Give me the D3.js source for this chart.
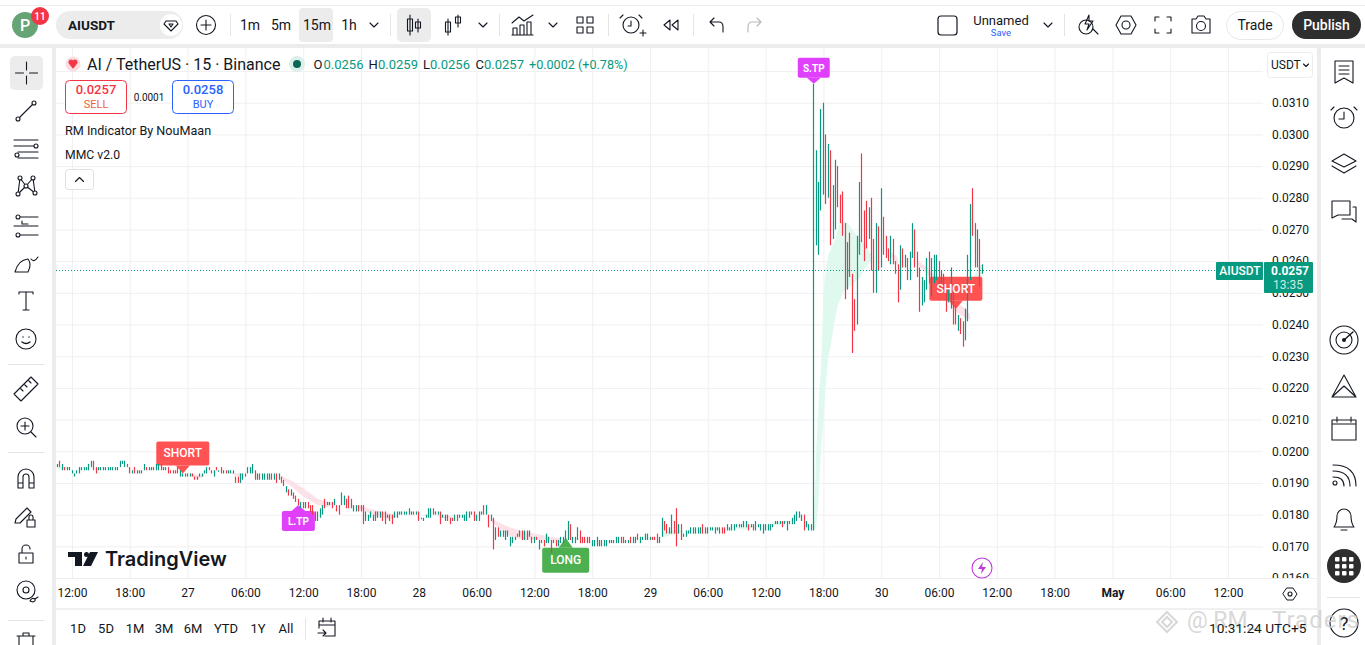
<!DOCTYPE html>
<html>
<head>
<meta charset="utf-8">
<script src="https://cdnjs.cloudflare.com/ajax/libs/d3/7.8.5/d3.min.js"></script>
<style>
  html, body { margin: 0; padding: 0; background: #fff; overflow: hidden; }
  svg { display: block; }
  text { font-family: Roboto, "Noto Sans", sans-serif; fill: #131722; }
  .axis path, .axis line { display: none; }
  .axis text { font-size: 12px; fill: #131722; font-family: Roboto, sans-serif; }
  .grid path { display: none; }
  .grid line { stroke: #f0f0f2; }
  .grid text { display: none; }
</style>
</head>
<body>
<svg id="page" width="1365" height="645"></svg>
<script>
// prices are kept in ticks of 0.0001, one 15 minute bar per entry
const TICK = 0.0001;
const lastBarTime = "2025-04-30T10:30";

const barHigh = [
  196,197,196,195,195,195,194,193,194,195,195,195,195,196,197,197,195,195,195,195,
  195,195,195,195,195,195,197,197,197,196,195,194,195,194,194,194,196,195,195,195,
  195,196,196,196,195,195,195,194,194,194,195,194,193,193,193,193,193,192,192,193,
  193,194,195,195,194,194,195,194,195,194,194,194,194,194,192,192,193,193,193,195,
  195,196,194,193,193,193,193,193,193,193,193,193,193,192,191,189,188,188,187,186,
  185,184,184,184,184,183,183,181,181,182,183,185,184,184,184,185,183,183,187,186,
  185,186,185,183,183,183,183,183,181,180,181,180,181,181,181,181,181,180,180,180,
  181,181,181,181,181,181,182,181,181,181,181,179,179,180,182,182,182,181,181,181,
  180,180,180,179,179,180,180,180,180,180,181,181,181,181,180,181,181,183,183,180,
  180,179,176,176,175,175,175,175,173,173,173,174,175,175,175,175,175,173,173,173,
  172,172,172,174,173,172,172,172,172,173,173,175,178,177,173,173,176,175,173,173,
  173,173,172,172,173,172,172,172,172,172,172,172,173,173,173,173,172,172,173,173,
  173,174,173,173,174,174,173,173,173,174,173,179,178,177,176,180,178,182,177,177,
  174,175,175,176,176,176,176,176,177,176,176,176,176,176,176,176,176,176,177,176,
  177,177,177,177,177,178,178,177,177,177,178,177,177,177,177,177,177,177,178,178,
  178,178,178,178,178,179,180,181,181,180,180,178,177,177,316,295,285,308,310,300,
  297,295,284,292,290,281,282,272,266,269,256,248,268,285,294,276,279,277,280,267,
  272,271,283,274,268,264,268,267,260,259,265,264,262,261,263,272,270,263,258,255,
  254,261,263,261,262,262,260,257,256,251,251,258,252,246,243,242,241,245,262,278,283,272,270,267,259
];
const barLow = [
  195,195,194,194,194,194,193,192,193,193,194,194,194,194,195,194,193,194,194,194,
  194,194,194,194,194,194,195,196,195,195,193,193,193,193,193,193,194,194,194,194,
  194,194,194,194,194,194,193,193,193,193,193,192,192,192,192,192,192,191,191,192,
  192,193,193,194,193,192,194,194,193,193,193,193,193,193,190,190,190,191,192,193,
  193,193,191,191,191,191,191,191,191,191,191,190,191,190,189,187,186,186,185,184,
  183,182,182,182,182,181,180,178,178,179,180,182,183,183,182,183,181,180,183,183,
  182,182,182,181,181,181,181,177,178,178,179,178,178,179,179,178,177,179,178,177,
  179,179,180,180,180,180,180,180,180,180,178,179,178,179,179,179,180,180,180,177,
  179,178,178,177,178,178,178,179,179,178,178,179,180,178,178,178,180,180,180,176,
  178,169,172,173,173,173,172,173,170,171,172,173,173,172,172,172,173,171,171,172,
  169,171,170,171,171,168,171,170,170,171,171,172,172,172,171,171,172,171,171,171,
  171,171,170,170,170,170,170,170,170,171,171,171,171,171,171,171,171,171,171,171,
  171,172,171,172,172,172,172,172,172,171,171,173,175,174,174,174,174,170,174,172,
  173,173,174,174,174,174,174,174,174,174,174,175,175,174,175,174,174,174,175,175,
  175,175,176,176,176,176,176,175,176,175,175,176,175,174,175,175,175,176,177,177,
  177,176,177,175,177,177,177,178,179,178,175,176,175,175,175,265,262,276,281,278,
  280,265,267,270,277,272,268,248,251,255,231,238,240,262,266,260,264,267,257,250,
  250,257,258,262,261,260,259,259,256,247,251,258,258,254,254,261,258,255,244,246,
  247,251,253,249,253,254,251,253,251,244,247,245,240,240,238,237,233,235,241,254,268,258,258,252,256
];
// 1 closed up, 0 closed down
const barUp = [
  1,0,1,0,1,1,1,1,1,1,1,1,1,1,1,0,0,1,1,1,
  1,1,1,1,1,1,1,1,1,0,0,1,0,1,0,1,1,0,1,1,
  0,1,1,0,1,1,0,0,0,0,0,1,1,0,1,1,0,0,0,1,
  1,1,1,0,0,1,0,1,0,1,0,1,1,1,0,0,1,1,0,1,
  1,1,0,1,0,1,1,1,1,0,1,0,1,0,0,1,0,1,0,0,
  0,1,0,1,0,0,0,0,1,1,1,0,1,1,0,1,0,0,1,1,
  0,0,0,1,1,0,0,0,1,1,1,1,0,1,1,0,0,1,0,0,
  1,1,1,1,1,1,1,1,0,1,0,1,1,1,1,1,0,1,1,0,
  1,1,0,0,0,1,0,1,1,1,1,1,0,0,1,1,1,0,1,0,
  1,0,1,0,1,1,1,1,1,1,1,0,1,0,1,0,1,0,1,0,
  1,0,0,1,1,0,1,0,1,1,1,1,1,0,1,1,1,0,0,0,
  0,0,1,1,1,1,0,1,1,1,1,0,1,1,0,0,1,1,0,1,
  1,0,1,1,1,1,1,0,0,0,1,1,0,0,1,1,0,0,1,0,
  1,1,1,1,1,1,1,1,0,0,1,1,1,1,1,1,0,0,1,1,
  1,1,1,1,1,1,1,0,1,0,1,1,1,1,1,1,1,1,1,1,
  1,0,1,1,0,1,1,1,1,1,0,1,1,1,1,1,1,1,1,0,
  1,0,1,1,0,0,0,0,1,0,0,0,1,1,0,0,0,1,0,0,
  1,0,1,0,0,0,1,0,0,0,1,0,1,0,1,1,0,0,0,1,
  1,1,0,1,1,1,0,1,0,0,1,1,0,0,1,0,0,1,1,1,0,0,1,0,1
];

// indicator ribbons: [bar, upper tick, lower tick]
const mintStart = [[0,195,194.2],[3,195,194.5],[5,194.8,194.5]];
const mintLift1 = [[251,174.6,172.8],[256,175,173.7],[260,175,174.4]];
const mintLift2 = [[282,176,175.5],[286,176.4,175.2],[289,176.6,176]];
const mintLift3 = [[296,177.2,176.8],[300,177.8,176.9],[303,178,177.5]];
const mintSpike = [
  [314,176,175],[315,200,176],[316,216,185],[317,226,200],[318,250,210],[319,257,221],[320,262,230],
  [321,263.5,233],[322,265.6,238],[323,267,242.5],[324,270,246],[325,272,248],[326,272.5,250],
  [327,272.5,251],[328,272,251.5],[329,271,252],[330,270,252.5],[331,269,253.5],[332,268,254],
  [333,267,254.5],[334,266.5,256],[335,265.5,257.5],[336,264.5,258.5],[337,263,259.5],[338,262,260]
];
const mintEnd = [[380,254,253],[382,258,254],[384,259,255]];
const pinkDip1 = [[55,193.2,192.5],[58,192.5,191],[61,192.5,192.2]];
const pinkDip2 = [[72,193.5,193],[75,193,192],[77,193,192.5]];
const pinkFall1 = [[93,192.2,191.5],[98,190.4,188.3],[102,188.3,185.7],[108,185,183],[112,184,182.3],[114,183.7,183]];
const pinkFall2 = [[125,182.9,182],[131,181.5,180],[138,180.4,178.5],[141,180,179.4]];
const pinkDip3 = [[158,180,179.5],[161,179.7,178.8],[164,179.5,179]];
const pinkFall3 = [[180,178.8,177.8],[187,176.2,173.6],[192,175,172.2],[201,173.6,172],[209,172.5,171.8]];
const pinkDip4 = [[346,263,261.5],[349,261,258.5]];
const pinkFall4 = [[357,260.2,259],[361,258,256],[366,254,251],[373,247,244],[377,245,242],[379,243,241.5]];

// signal labels
const signalText = ["SHORT","L.TP","LONG","S.TP","SHORT"];
const signalBar = [52,100,211,314,373];
const signalTick = [193,183,172.7,316,245];
const signalDir = ["down","up","up","down","down"];
const signalColor = ["#ff5252","#e040fb","#4caf50","#e040fb","#ff5252"];

const timeTicks = ["2025-04-26T12:00","2025-04-26T18:00","2025-04-27T00:00","2025-04-27T06:00","2025-04-27T12:00","2025-04-27T18:00","2025-04-28T00:00","2025-04-28T06:00","2025-04-28T12:00","2025-04-28T18:00","2025-04-29T00:00","2025-04-29T06:00","2025-04-29T12:00","2025-04-29T18:00","2025-04-30T00:00","2025-04-30T06:00","2025-04-30T12:00","2025-04-30T18:00","2025-05-01T00:00","2025-05-01T06:00","2025-05-01T12:00"];
const timeLabels = ["12:00","18:00","27","06:00","12:00","18:00","28","06:00","12:00","18:00","29","06:00","12:00","18:00","30","06:00","12:00","18:00","May","06:00","12:00"];
const priceLabels = [0.0160,0.0170,0.0180,0.0190,0.0200,0.0210,0.0220,0.0230,0.0240,0.0250,0.0260,0.0270,0.0280,0.0290,0.0300,0.0310];
const priceGrid = priceLabels.concat([0.0320]);

const intervals = [["1m",250],["5m",281],["15m",317],["1h",349]];
const ranges = [["1D",78],["5D",106],["1M",135],["3M",164],["6M",193],["YTD",226],["1Y",258],["All",286]];

const UP = "#089981", DOWN = "#f23645", INK = "#131722", GAP = "#ececec";
const plot = {left: 56, right: 1263, top: 48, bottom: 578};

const svg = d3.select("#page");
const parseTime = d3.utcParse("%Y-%m-%dT%H:%M");

const x = d3.scaleUtc()
  .domain([parseTime(timeTicks[0]), parseTime(timeTicks[timeTicks.length - 1])])
  .range([72, 1228]);
const y = d3.scaleLinear().domain([0.0160, 0.0310]).range([578, 102.7]);

const last = parseTime(lastBarTime).getTime();
const barTime = i => new Date(last - (barHigh.length - 1 - i) * 15 * 60000);
const xBar = i => x(barTime(i));

// page frame
svg.append("rect").attr("width", 1365).attr("height", 645).attr("fill", GAP);
svg.append("rect").attr("y", 6).attr("width", 1365).attr("height", 38).attr("fill", "#fff");
svg.append("rect").attr("width", 1365).attr("height", 5).attr("fill", "#fff");
svg.append("rect").attr("y", 48).attr("width", 52).attr("height", 597).attr("fill", "#fff");
svg.append("rect").attr("x", 56).attr("y", 48).attr("width", 1261).attr("height", 597).attr("fill", "#fff");
svg.append("rect").attr("x", 1321).attr("y", 48).attr("width", 44).attr("height", 597).attr("fill", "#fff");
svg.append("rect").attr("x", 56).attr("y", 608).attr("width", 1261).attr("height", 2).attr("fill", "#f0f0f0");

svg.append("defs").append("clipPath").attr("id", "plotClip")
  .append("rect").attr("x", plot.left).attr("y", plot.top)
  .attr("width", plot.right - plot.left).attr("height", plot.bottom - plot.top);
svg.select("defs").append("clipPath").attr("id", "axisClip")
  .append("rect").attr("x", plot.right).attr("y", plot.top).attr("width", 54).attr("height", plot.bottom - plot.top);

// grid
svg.append("g").attr("class", "grid")
  .attr("transform", `translate(${plot.left},0)`)
  .call(d3.axisLeft(y).tickValues(priceGrid).tickSize(-(plot.right - plot.left)).tickFormat(""));
svg.append("g").attr("class", "grid")
  .attr("transform", `translate(0,${plot.bottom})`)
  .call(d3.axisBottom(x).tickValues(timeTicks.map(parseTime)).tickSize(-(plot.bottom - plot.top)).tickFormat(""));
svg.append("line").attr("x1", plot.left).attr("x2", 1317).attr("y1", plot.bottom + 0.5).attr("y2", plot.bottom + 0.5).attr("stroke", "#eeeeee");

const chart = svg.append("g").attr("clip-path", "url(#plotClip)");

// ribbons
const ribbon = d3.area()
  .x(d => xBar(d[0]))
  .y0(d => y(d[2] * TICK))
  .y1(d => y(d[1] * TICK));
[mintStart, mintLift1, mintLift2, mintLift3, mintSpike, mintEnd].forEach(r => {
  chart.append("path").attr("d", ribbon(r)).attr("fill", "#e0f9ee");
});
[pinkDip1, pinkDip2, pinkFall1, pinkFall2, pinkDip3, pinkFall3, pinkDip4, pinkFall4].forEach(r => {
  chart.append("path").attr("d", ribbon(r)).attr("fill", "#fde1e8");
});

// label boxes sit under the bars, their text on top
const boxW = {"SHORT": 53, "LONG": 47, "L.TP": 33, "S.TP": 32};
const boxH = {"SHORT": 24, "LONG": 25, "L.TP": 20, "S.TP": 20};
const boxGap = {"SHORT": 8, "LONG": 10, "L.TP": 6, "S.TP": 6};
const signalAt = signalText.map((t, i) => {
  const tx = xBar(signalBar[i]), ty = y(signalTick[i] * TICK);
  const w = boxW[t], h = boxH[t], dir = signalDir[i] === "down" ? -1 : 1;
  const top = dir < 0 ? ty - boxGap[t] - h : ty + boxGap[t];
  return {t, tx, ty, w, h, dir, top, color: signalColor[i]};
});
signalAt.forEach(s => {
  svg.append("rect").attr("x", s.tx - s.w / 2).attr("y", s.top).attr("width", s.w).attr("height", s.h).attr("rx", 2).attr("fill", s.color);
  const base = s.dir < 0 ? s.top + s.h : s.top;
  svg.append("path").attr("d", d3.line()([[s.tx - 7, base], [s.tx, s.ty], [s.tx + 7, base]])).attr("fill", s.color);
});

// bars
const bars = svg.append("g").attr("clip-path", "url(#plotClip)");
bars.selectAll("line").data(barHigh).join("line")
  .attr("x1", (d, i) => Math.floor(xBar(i)) + 0.5)
  .attr("x2", (d, i) => Math.floor(xBar(i)) + 0.5)
  .attr("y1", d => y(d * TICK))
  .attr("y2", (d, i) => Math.max(y(barLow[i] * TICK), y(d * TICK) + 1.5))
  .attr("stroke", (d, i) => barUp[i] ? UP : DOWN)
  .attr("stroke-width", 1.2);

signalAt.forEach(s => {
  svg.append("text").attr("x", s.tx).attr("y", s.top + s.h / 2 + 4)
    .attr("text-anchor", "middle").style("fill", "#fff")
    .style("font-size", s.t.includes(".") ? "10px" : "12px")
    .style("font-weight", s.t.includes(".") ? 700 : 500)
    .text(s.t);
});

// last price line
svg.append("line").attr("x1", plot.left).attr("x2", 1216)
  .attr("y1", Math.floor(y(257 * TICK)) + 0.5).attr("y2", Math.floor(y(257 * TICK)) + 0.5)
  .attr("stroke", UP).attr("stroke-dasharray", "1 2").attr("shape-rendering", "crispEdges");

// axes
const priceClip = svg.append("g").attr("clip-path", "url(#axisClip)");
priceClip.append("g").attr("class", "axis")
  .attr("transform", `translate(${plot.right},0)`)
  .call(d3.axisRight(y).tickValues(priceLabels).tickSize(0).tickPadding(9).tickFormat(d3.format(".4f")));
const timeAxis = svg.append("g").attr("class", "axis")
  .attr("transform", `translate(0,${plot.bottom})`)
  .call(d3.axisBottom(x).tickValues(timeTicks.map(parseTime)).tickSize(0).tickPadding(10)
    .tickFormat((d, i) => timeLabels[i]));
timeAxis.selectAll("text").style("font-weight", (d, i) => timeLabels[i] === "May" ? 700 : 400);

// last price tags
svg.append("rect").attr("x", 1216).attr("y", 262).attr("width", 47).attr("height", 18).attr("rx", 1).attr("fill", UP);
svg.append("rect").attr("x", 1264).attr("y", 262).attr("width", 49).attr("height", 31).attr("rx", 1).attr("fill", UP);
txt(1240, 275, "AIUSDT", 12, "#fff", "middle", 500);
txt(1290, 275, "0.0257", 12, "#fff", "middle", 700);
txt(1288, 289, "13:35", 12, "#c9ece4", "middle", 400);

function txt(px, py, s, size, color, anchor, weight) {
  return svg.append("text").attr("x", px).attr("y", py).attr("text-anchor", anchor || "start")
    .style("font-size", size + "px").style("fill", color || INK).style("font-weight", weight || 400).text(s);
}
function icon(px, py, d, width) {
  return svg.append("path").attr("transform", `translate(${px},${py})`).attr("d", d)
    .attr("fill", "none").attr("stroke", INK).attr("stroke-width", width || 1.1)
    .attr("stroke-linecap", "round").attr("stroke-linejoin", "round");
}
function ring(px, py, r, color) {
  return svg.append("circle").attr("cx", px).attr("cy", py).attr("r", r)
    .attr("fill", "#fff").attr("stroke", color || INK).attr("stroke-width", 1.1);
}
function sep(x1, y1, x2, y2) {
  svg.append("line").attr("x1", x1).attr("y1", y1).attr("x2", x2).attr("y2", y2).attr("stroke", "#e4e4e4");
}
const chevron = "M-4-2L0 2L4-2";

// top bar
svg.append("circle").attr("cx", 25).attr("cy", 25).attr("r", 13).attr("fill", "#66a375");
txt(25, 31, "P", 16, "#fff", "middle", 500);
svg.append("circle").attr("cx", 40).attr("cy", 16).attr("r", 9).attr("fill", "#f23645");
txt(40, 20, "11", 10, "#fff", "middle", 500);
svg.append("rect").attr("x", 56).attr("y", 11).attr("width", 127).attr("height", 28).attr("rx", 14).attr("fill", GAP);
txt(68, 30, "AIUSDT", 13.5, INK, "start", 700);
svg.append("circle").attr("cx", 171).attr("cy", 25).attr("r", 11).attr("fill", "#fff");
icon(171, 25, "M-5-4H5L7-1L0 6L-7-1Z M-2-1H2L0 2Z");
ring(206, 25, 9.5);
icon(206, 25, "M-5 0H5M0-5V5");
sep(230.5, 14, 230.5, 36);
svg.append("rect").attr("x", 299).attr("y", 8).attr("width", 34).attr("height", 34).attr("rx", 4).attr("fill", GAP);
intervals.forEach(d => txt(d[1], 30, d[0], 14, INK, "middle"));
icon(374, 25, chevron);
sep(390.5, 14, 390.5, 36);
svg.append("rect").attr("x", 397).attr("y", 8).attr("width", 34).attr("height", 34).attr("rx", 5).attr("fill", GAP);
icon(414, 25, "M-4-10V10M-6.5-6H-1.5V6H-6.5Z M4-6V7M1.5-3H6.5V3H1.5Z");
icon(453, 25, "M-5-6V10M-7.5-3H-2.5V7H-7.5Z M5-10V2M2.5-8H7.5V-2H2.5Z");
icon(483, 25, chevron);
sep(499.5, 14, 499.5, 36);
icon(523, 25, "M-11-2L-4-8L1-4L10-10 M-10 10V3H-6V10Z M-3 10V0H1V10Z M4 10V-3H8V10Z M-11 10H10");
icon(553, 25, chevron);
icon(585, 25, "M-8-8H-2V-2H-8Z M2-8H8V-2H2Z M-8 2H-2V8H-8Z M2 2H8V8H2Z");
sep(608.5, 14, 608.5, 36);
ring(631, 25, 8);
icon(631, 25, "M0-4V1H-3 M-8-10L-11-7M8-10L11-7 M9 8H15M12 5V11");
icon(671, 25, "M-1-5L-7 0L-1 5Z M7-5L1 0L7 5Z");
sep(693.5, 14, 693.5, 36);
icon(716, 25, "M-6-3H3Q7-3 7 2V7 M-2-7L-6-3L-2 1");
icon(755, 25, "M6-3H-3Q-7-3-7 2V7 M2-7L6-3L2 1").attr("stroke", "#b8b8b8");
svg.append("rect").attr("x", 938).attr("y", 16).attr("width", 19).attr("height", 19).attr("rx", 3).attr("fill", "none").attr("stroke", INK).attr("stroke-width", 1.2);
txt(1001, 25, "Unnamed", 13, INK, "middle");
txt(1001, 36, "Save", 9.5, "#2962ff", "middle");
icon(1048, 25, chevron);
sep(1064.5, 14, 1064.5, 36);
ring(1086, 27, 7);
icon(1088, 25, "M1-10L-3-1H1L-1 5L5-4H1Z M5 4L10 9");
icon(1126, 25, "M-5-9H5L10 0L5 9H-5L-10 0Z");
ring(1126, 25, 4);
icon(1163, 25, "M-8-4V-8H-4M4-8H8V-4M8 4V8H4M-4 8H-8V4");
icon(1201, 25, "M-9-6H-5L-3-9H3L5-6H9V8H-9Z");
ring(1201, 26, 4.5);
svg.append("rect").attr("x", 1226.5).attr("y", 11.5).attr("width", 57).attr("height", 28).attr("rx", 14).attr("fill", "#fff").attr("stroke", "#e8e8e8");
txt(1255, 30, "Trade", 14, INK, "middle");
svg.append("rect").attr("x", 1292).attr("y", 11).attr("width", 69).attr("height", 28).attr("rx", 14).attr("fill", "#2e2e2e");
txt(1326.5, 30, "Publish", 14, "#fff", "middle", 500);

// legend
svg.append("circle").attr("cx", 73).attr("cy", 64).attr("r", 7.5).attr("fill", "#fbdde0");
icon(73, 64, "M0 4L-4-1Q-4-4-2-4Q0-4 0-2Q0-4 2-4Q4-4 4-1Z").attr("fill", "#f23645").attr("stroke", "#f23645");
txt(87, 70, "AI / TetherUS · 15 · Binance", 16, INK);
svg.append("circle").attr("cx", 297).attr("cy", 64).attr("r", 8).attr("fill", "#dcefea");
svg.append("circle").attr("cx", 297).attr("cy", 64).attr("r", 4).attr("fill", "#0b6655");
const ohlcLetters = [["O",313.5],["H",368.5],["L",423],["C",475.5]];
const ohlcValues = [["0.0256",323.5],["0.0259",378],["0.0256",430],["0.0257",484]];
ohlcLetters.forEach(d => txt(d[1], 69, d[0], 13, INK));
ohlcValues.forEach(d => txt(d[1], 69, d[0], 13, UP));
txt(529, 69, "+0.0002 (+0.78%)", 12.6, UP);

svg.append("rect").attr("x", 65.5).attr("y", 80.5).attr("width", 61).attr("height", 33).attr("rx", 4).attr("fill", "#fff").attr("stroke", DOWN);
txt(96, 94, "0.0257", 13, DOWN, "middle", 500);
txt(96, 108, "SELL", 11, "#f0603a", "middle");
txt(149, 101, "0.0001", 10, INK, "middle");
svg.append("rect").attr("x", 172.5).attr("y", 80.5).attr("width", 61).attr("height", 33).attr("rx", 4).attr("fill", "#fff").attr("stroke", "#2962ff");
txt(203, 94, "0.0258", 13, "#2962ff", "middle", 500);
txt(203, 108, "BUY", 11, "#2962ff", "middle");
txt(65, 135, "RM Indicator By NouMaan", 12.6, INK);
txt(65, 159, "MMC v2.0", 12.2, INK);
svg.append("rect").attr("x", 65.5).attr("y", 169.5).attr("width", 28).attr("height", 20).attr("rx", 3).attr("fill", "#fff").attr("stroke", "#e0e0e0");
icon(79.5, 179.5, "M-4 2L0-2L4 2");

svg.append("rect").attr("x", 1267.5).attr("y", 52.5).attr("width", 45).attr("height", 25).attr("rx", 3).attr("fill", "#fff").attr("stroke", "#ececec");
txt(1271, 69, "USDT", 12, INK);
icon(1306, 65, "M-2.5-1L0 1.5L2.5-1");

// watermark logo
svg.append("path").attr("transform", "translate(68,552)")
  .attr("d", "M0 0H14V14H7V5H0Z M22 0H30L23 14H15Z").attr("fill", INK);
svg.append("circle").attr("cx", 86.5).attr("cy", 554.5).attr("r", 2.5).attr("fill", INK);
svg.append("text").attr("x", 105).attr("y", 566).style("font-size", "20px").style("font-weight", 600)
  .style("font-family", "Inter, Roboto, sans-serif").text("TradingView");
ring(982, 568, 10, "#c038d8");
svg.append("path").attr("transform", "translate(982,568)").attr("d", "M1-6L-4 1H0L-1 6L4-1H0Z").attr("fill", "#c038d8");
icon(1290, 594, "M-3-6H3L7 0L3 6H-3L-7 0Z").attr("stroke-width", 1);
ring(1290, 594, 2);

// left tools
svg.append("rect").attr("x", 10).attr("y", 56).attr("width", 33).attr("height", 34).attr("rx", 5).attr("fill", GAP);
icon(26.5, 73, "M0-11V-3M0 3V11M-11 0H-3M3 0H11");
icon(26, 111, "M-8 8L8-8");
ring(18, 119, 2); ring(34, 103, 2);
icon(26, 149, "M-12-9H12M-12-3H8M-8 3H12M-8 9H12");
ring(36, 146, 2); ring(17, 155, 2);
icon(26, 186, "M-8 8L-6-8L0 0L7-8L9 7L0 0Z");
[[18,194],[20,178],[26,186],[33,178],[35,193]].forEach(p => ring(p[0], p[1], 2));
icon(26, 226, "M-6-9H12M-12 0H12M-6 9H12M-4-5V-2H2");
ring(18, 217, 2); ring(18, 235, 2);
icon(26, 264, "M-11 8Q-8-4 2-5Q6 0 2 8Z M5-5Q8-1 12-7");
icon(26, 301, "M-7-7V-9H7V-7M0-9V9M-3 9H3");
ring(26, 339, 10);
icon(26, 339, "M-4 3Q0 6 4 3M-3-2V-2M3-2V-2", 1.4);
sep(8, 364.5, 44, 364.5);
icon(26, 389, "M-12 5L5-12L12-5L-5 12Z M-6-1L-3 2M-2-5L1-2M2-9L5-6");
ring(25, 426, 8);
icon(25, 426, "M-4 0H4M0-4V4M6 6L11 11");
sep(8, 452.5, 44, 452.5);
icon(26, 479, "M-8 9V-2A8 8 0 0 1 8-2V9H3V-2A3 3 0 0 0-3-2V9Z M-8 4H-3M3 4H8");
icon(24, 516, "M-9 7L-8 3L3-8L7-4L-4 7Z M3 4H11V11H3Z M5 4V1A2 2 0 0 1 9 1V4");
icon(26, 554, "M-7-1H7V9H-7Z M-4-1V-5A4 4 0 0 1 4-5V-6M0 3V5");
ring(26, 590, 9);
ring(26, 590, 3);
icon(33, 600, "M-3 1Q-1-3 2-1Q3 1 0 2Z M2-1L5-3");
sep(8, 620.5, 44, 620.5);
icon(26, 642, "M-9-6H9M-3-6V-9H3V-6M-7-6V12H7V-6");

// right tools
icon(1344, 72, "M-9-11H9V11L0 6L-9 11Z M-5-6H5M-5-2H5M-5 2H5");
ring(1344, 118, 10);
icon(1344, 118, "M0-6V1H-5M-10-11L-13-8M10-11L13-8");
icon(1344, 164, "M0-10L12-3L0 3L-12-3Z M-12 2L0 9L12 2");
icon(1344, 210, "M-12-9H6V5H-6L-12 8Z M9-3H12V12L8 9H-2");
ring(1344, 340, 14); ring(1344, 340, 8);
icon(1344, 340, "M0 0L9-8", 1.4);
svg.append("circle").attr("cx", 1344).attr("cy", 340).attr("r", 2).attr("fill", INK);
icon(1344, 385, "M-12 12L0-10L12 12Z M-12 12L0 1L12 12");
icon(1344, 428, "M-12-8H12V12H-12Z M-7-11V-6M7-11V-6 M-12-4H12");
icon(1344, 474, "M-11-9Q12-9 12 12M-11-3Q6-3 6 12M-11 3Q0 3 0 12");
ring(1335, 483, 2);
icon(1344, 519, "M-10 8Q-7 4-7-3A7 7 0 0 1 7-3Q7 4 10 8Z M-3 11H3");
svg.append("circle").attr("cx", 1344).attr("cy", 566).attr("r", 17).attr("fill", "#2e2e2e");
[-7, 0, 7].forEach(dx => [-7, 0, 7].forEach(dy => {
  svg.append("rect").attr("x", 1342 + dx).attr("y", 564 + dy).attr("width", 4.5).attr("height", 4.5).attr("rx", 1).attr("fill", "#fff");
}));
sep(1327, 597.5, 1360, 597.5);
ring(1344, 623, 14);
txt(1344, 630, "?", 19, INK, "middle");

// bottom bar
ranges.forEach(d => txt(d[1], 633, d[0], 13, INK, "middle"));
sep(305.5, 618, 305.5, 640);
icon(327, 628, "M-8-7H8V8H-2 M-8-7V0 M-8-3H8 M-4-10V-6M4-10V-6 M-9 5H-1M-4 2L-1 5L-4 8");

// repost watermark over the corner, the clock text runs through it as in the reference
const mark = svg.append("g").attr("opacity", 0.8);
mark.append("path").attr("transform", "translate(1167,622)")
  .attr("d", "M0-10L10 0L0 10L-10 0Z M-5 0L0 5L5 0L0-5Z").attr("fill", "none").attr("stroke", "#cfcfcf").attr("stroke-width", 2);
mark.append("text").attr("x", 1187).attr("y", 628).style("font-size", "23px").style("fill", "#cfcfcf").text("@ RM_");
mark.append("text").attr("x", 1272).attr("y", 628).style("font-size", "24px").style("letter-spacing", "1px").style("fill", "#cfcfcf").text("Traders");
txt(1209, 633, "10:31:24 UTC+5", 13.7, INK);
</script>
</body>
</html>
